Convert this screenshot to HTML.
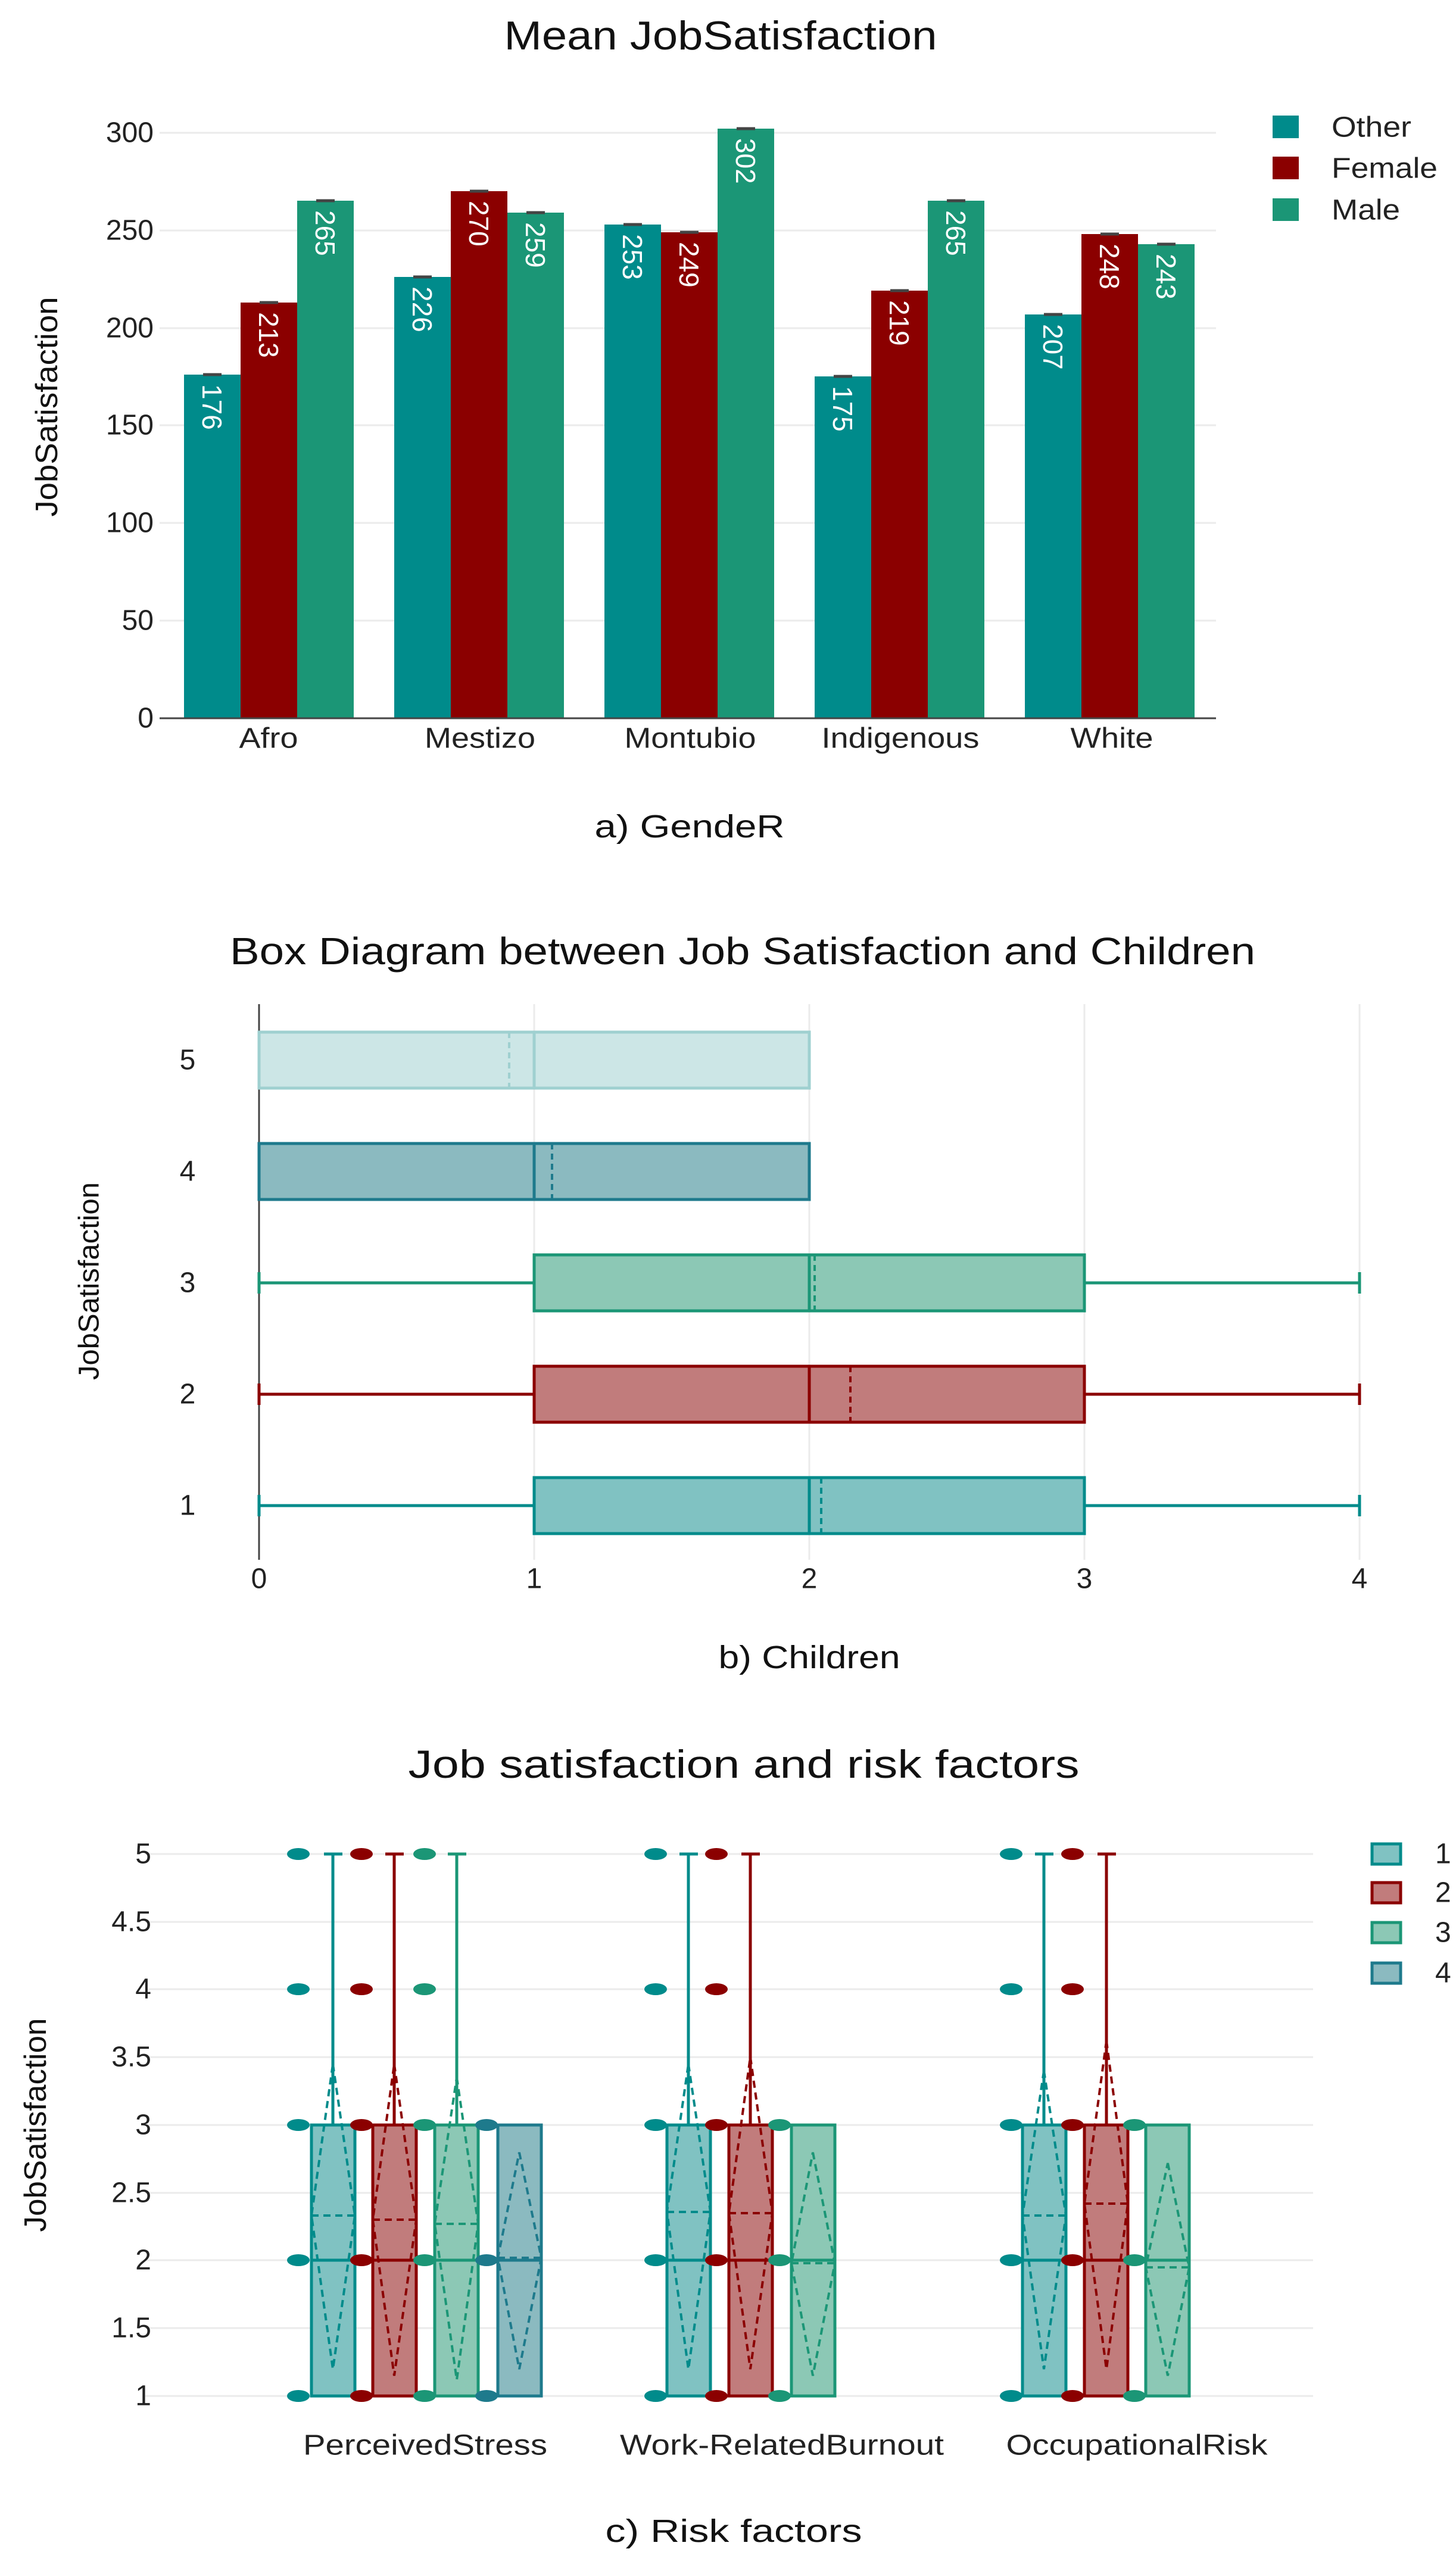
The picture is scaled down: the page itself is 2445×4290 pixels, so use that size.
<!DOCTYPE html>
<html><head><meta charset="utf-8"><style>
html,body{margin:0;padding:0;background:#fff;}
svg{display:block;font-family:"Liberation Sans",Arial,sans-serif;}
</style></head><body>
<svg width="2445" height="4290" viewBox="0 0 2445 4290" xmlns="http://www.w3.org/2000/svg">
<rect width="2445" height="4290" fill="#fff"/>

<!-- ===== Chart a ===== -->
<text x="1210" y="60" font-size="68" text-anchor="middle" dominant-baseline="central" fill="#111" textLength="727" lengthAdjust="spacingAndGlyphs">Mean JobSatisfaction</text>
<g stroke="#ebebeb" stroke-width="3">
<line x1="268" x2="2042" y1="1042" y2="1042"/><line x1="268" x2="2042" y1="878" y2="878"/>
<line x1="268" x2="2042" y1="714" y2="714"/><line x1="268" x2="2042" y1="551" y2="551"/>
<line x1="268" x2="2042" y1="387" y2="387"/><line x1="268" x2="2042" y1="223" y2="223"/>
</g>
<g font-size="48" text-anchor="end" dominant-baseline="central" fill="#222">
<text x="258" y="1206">0</text><text x="258" y="1042">50</text><text x="258" y="878">100</text>
<text x="258" y="714">150</text><text x="258" y="551">200</text><text x="258" y="387">250</text><text x="258" y="223">300</text>
</g>
<text transform="translate(79,683) rotate(-90)" font-size="52" text-anchor="middle" dominant-baseline="central" fill="#111" textLength="369" lengthAdjust="spacingAndGlyphs">JobSatisfaction</text>
<!-- bars -->
<g>
<rect x="309" y="629" width="95" height="577" fill="#008B8B"/><rect x="404" y="508" width="95" height="698" fill="#8B0000"/><rect x="499" y="337" width="95" height="869" fill="#1B9676"/>
<rect x="662" y="465" width="95" height="741" fill="#008B8B"/><rect x="757" y="321" width="95" height="885" fill="#8B0000"/><rect x="852" y="357" width="95" height="849" fill="#1B9676"/>
<rect x="1015" y="377" width="95" height="829" fill="#008B8B"/><rect x="1110" y="390" width="95" height="816" fill="#8B0000"/><rect x="1205" y="216" width="95" height="990" fill="#1B9676"/>
<rect x="1368" y="632" width="95" height="574" fill="#008B8B"/><rect x="1463" y="488" width="95" height="718" fill="#8B0000"/><rect x="1558" y="337" width="95" height="869" fill="#1B9676"/>
<rect x="1721" y="528" width="95" height="678" fill="#008B8B"/><rect x="1816" y="393" width="95" height="813" fill="#8B0000"/><rect x="1911" y="410" width="95" height="796" fill="#1B9676"/>
</g>
<g stroke="#444" stroke-width="5">
<line x1="341" x2="372" y1="629" y2="629"/><line x1="436" x2="467" y1="508" y2="508"/><line x1="531" x2="562" y1="337" y2="337"/>
<line x1="694" x2="725" y1="465" y2="465"/><line x1="789" x2="820" y1="321" y2="321"/><line x1="884" x2="915" y1="357" y2="357"/>
<line x1="1047" x2="1078" y1="377" y2="377"/><line x1="1142" x2="1173" y1="390" y2="390"/><line x1="1237" x2="1268" y1="216" y2="216"/>
<line x1="1400" x2="1431" y1="632" y2="632"/><line x1="1495" x2="1526" y1="488" y2="488"/><line x1="1590" x2="1621" y1="337" y2="337"/>
<line x1="1753" x2="1784" y1="528" y2="528"/><line x1="1848" x2="1879" y1="393" y2="393"/><line x1="1943" x2="1974" y1="410" y2="410"/>
</g>
<g font-size="46" fill="#fff" dominant-baseline="central">
<text transform="translate(356,645) rotate(90)">176</text><text transform="translate(451,524) rotate(90)">213</text><text transform="translate(546,353) rotate(90)">265</text>
<text transform="translate(709,481) rotate(90)">226</text><text transform="translate(804,337) rotate(90)">270</text><text transform="translate(899,373) rotate(90)">259</text>
<text transform="translate(1062,393) rotate(90)">253</text><text transform="translate(1157,406) rotate(90)">249</text><text transform="translate(1252,232) rotate(90)">302</text>
<text transform="translate(1415,648) rotate(90)">175</text><text transform="translate(1510,504) rotate(90)">219</text><text transform="translate(1605,353) rotate(90)">265</text>
<text transform="translate(1768,544) rotate(90)">207</text><text transform="translate(1863,409) rotate(90)">248</text><text transform="translate(1958,426) rotate(90)">243</text>
</g>
<line x1="268" x2="2042" y1="1206" y2="1206" stroke="#444" stroke-width="3"/>
<g font-size="48" text-anchor="middle" dominant-baseline="central" fill="#222">
<text x="451" y="1240" textLength="99" lengthAdjust="spacingAndGlyphs">Afro</text><text x="806" y="1240" textLength="186" lengthAdjust="spacingAndGlyphs">Mestizo</text><text x="1159" y="1240" textLength="221" lengthAdjust="spacingAndGlyphs">Montubio</text><text x="1512" y="1240" textLength="265" lengthAdjust="spacingAndGlyphs">Indigenous</text><text x="1867" y="1240" textLength="139" lengthAdjust="spacingAndGlyphs">White</text>
</g>
<text x="1158" y="1388" font-size="54" text-anchor="middle" dominant-baseline="central" fill="#111" textLength="319" lengthAdjust="spacingAndGlyphs">a) GendeR</text>
<rect x="2137" y="194" width="44" height="38" fill="#008B8B"/><rect x="2137" y="263" width="44" height="38" fill="#8B0000"/><rect x="2137" y="333" width="44" height="38" fill="#1B9676"/>
<g font-size="48" dominant-baseline="central" fill="#222">
<text x="2236" y="214" textLength="134" lengthAdjust="spacingAndGlyphs">Other</text><text x="2236" y="283" textLength="178" lengthAdjust="spacingAndGlyphs">Female</text><text x="2236" y="353" textLength="115" lengthAdjust="spacingAndGlyphs">Male</text>
</g>

<!-- ===== Chart b ===== -->
<text x="1247" y="1597" font-size="64" text-anchor="middle" dominant-baseline="central" fill="#111" textLength="1722" lengthAdjust="spacingAndGlyphs">Box Diagram between Job Satisfaction and Children</text>
<g stroke="#ebebeb" stroke-width="3">
<line x1="897" x2="897" y1="1686" y2="2619"/><line x1="1359" x2="1359" y1="1686" y2="2619"/>
<line x1="1821" x2="1821" y1="1686" y2="2619"/><line x1="2283" x2="2283" y1="1686" y2="2619"/>
</g>
<line x1="435" x2="435" y1="1686" y2="2619" stroke="#444" stroke-width="3"/>
<g font-size="48" text-anchor="middle" dominant-baseline="central" fill="#222">
<text x="315" y="1780">5</text><text x="315" y="1967">4</text><text x="315" y="2154">3</text><text x="315" y="2341">2</text><text x="315" y="2528">1</text>
<text x="435" y="2651">0</text><text x="897" y="2651">1</text><text x="1359" y="2651">2</text><text x="1821" y="2651">3</text><text x="2283" y="2651">4</text>
</g>
<text transform="translate(150,2151) rotate(-90)" font-size="48" text-anchor="middle" dominant-baseline="central" fill="#111" textLength="332" lengthAdjust="spacingAndGlyphs">JobSatisfaction</text>
<text x="1359" y="2783" font-size="54" text-anchor="middle" dominant-baseline="central" fill="#111" textLength="305" lengthAdjust="spacingAndGlyphs">b) Children</text>
<!-- 5 -->
<rect x="435" y="1733" width="924" height="94" fill="#CCE6E6" stroke="#9FD0D0" stroke-width="5"/>
<line x1="897" x2="897" y1="1733" y2="1827" stroke="#9FD0D0" stroke-width="5"/>
<line x1="855" x2="855" y1="1733" y2="1827" stroke="#9FD0D0" stroke-width="4" stroke-dasharray="10 7"/>
<!-- 4 -->
<rect x="435" y="1920" width="924" height="94" fill="#8BBAC0" stroke="#1E7A8C" stroke-width="5"/>
<line x1="897" x2="897" y1="1920" y2="2014" stroke="#1E7A8C" stroke-width="5"/>
<line x1="927" x2="927" y1="1920" y2="2014" stroke="#1E7A8C" stroke-width="4" stroke-dasharray="10 7"/>
<!-- 3 -->
<g stroke="#1B9676" stroke-width="5">
<line x1="435" x2="897" y1="2154" y2="2154"/><line x1="1821" x2="2283" y1="2154" y2="2154"/>
<line x1="435" x2="435" y1="2136" y2="2172"/><line x1="2283" x2="2283" y1="2136" y2="2172"/>
<rect x="897" y="2107" width="924" height="94" fill="#8CC8B5"/>
<line x1="1359" x2="1359" y1="2107" y2="2201"/>
<line x1="1368" x2="1368" y1="2107" y2="2201" stroke-width="4" stroke-dasharray="10 7"/>
</g>
<!-- 2 -->
<g stroke="#8B0000" stroke-width="5">
<line x1="435" x2="897" y1="2341" y2="2341"/><line x1="1821" x2="2283" y1="2341" y2="2341"/>
<line x1="435" x2="435" y1="2323" y2="2359"/><line x1="2283" x2="2283" y1="2323" y2="2359"/>
<rect x="897" y="2294" width="924" height="94" fill="#C17C7C"/>
<line x1="1359" x2="1359" y1="2294" y2="2388"/>
<line x1="1428" x2="1428" y1="2294" y2="2388" stroke-width="4" stroke-dasharray="10 7"/>
</g>
<!-- 1 -->
<g stroke="#008B8B" stroke-width="5">
<line x1="435" x2="897" y1="2528" y2="2528"/><line x1="1821" x2="2283" y1="2528" y2="2528"/>
<line x1="435" x2="435" y1="2510" y2="2546"/><line x1="2283" x2="2283" y1="2510" y2="2546"/>
<rect x="897" y="2481" width="924" height="94" fill="#80C2C2"/>
<line x1="1359" x2="1359" y1="2481" y2="2575"/>
<line x1="1379" x2="1379" y1="2481" y2="2575" stroke-width="4" stroke-dasharray="10 7"/>
</g>

<!-- ===== Chart c ===== -->
<text x="1249" y="2962" font-size="66" text-anchor="middle" dominant-baseline="central" fill="#111" textLength="1127" lengthAdjust="spacingAndGlyphs">Job satisfaction and risk factors</text>
<g stroke="#ebebeb" stroke-width="3">
<line x1="244" x2="2205" y1="3113" y2="3113"/><line x1="244" x2="2205" y1="3227" y2="3227"/>
<line x1="244" x2="2205" y1="3340" y2="3340"/><line x1="244" x2="2205" y1="3454" y2="3454"/>
<line x1="244" x2="2205" y1="3568" y2="3568"/><line x1="244" x2="2205" y1="3682" y2="3682"/>
<line x1="244" x2="2205" y1="3795" y2="3795"/><line x1="244" x2="2205" y1="3909" y2="3909"/>
<line x1="244" x2="2205" y1="4023" y2="4023"/>
</g>
<g font-size="48" text-anchor="end" dominant-baseline="central" fill="#222">
<text x="254" y="3113">5</text><text x="254" y="3227">4.5</text><text x="254" y="3340">4</text><text x="254" y="3454">3.5</text>
<text x="254" y="3568">3</text><text x="254" y="3682">2.5</text><text x="254" y="3795">2</text><text x="254" y="3909">1.5</text><text x="254" y="4023">1</text>
</g>
<text transform="translate(60,3568) rotate(-90)" font-size="52" text-anchor="middle" dominant-baseline="central" fill="#111" textLength="359" lengthAdjust="spacingAndGlyphs">JobSatisfaction</text>
<g font-size="48" text-anchor="middle" dominant-baseline="central" fill="#222">
<text x="714" y="4106" textLength="410" lengthAdjust="spacingAndGlyphs">PerceivedStress</text><text x="1313" y="4106" textLength="544" lengthAdjust="spacingAndGlyphs">Work-RelatedBurnout</text><text x="1909" y="4106" textLength="439" lengthAdjust="spacingAndGlyphs">OccupationalRisk</text>
</g>
<text x="1232" y="4250" font-size="54" text-anchor="middle" dominant-baseline="central" fill="#111" textLength="431" lengthAdjust="spacingAndGlyphs">c) Risk factors</text>
<!-- legend -->
<rect x="2304" y="3096" width="48" height="34" fill="#80C2C2" stroke="#008B8B" stroke-width="5"/>
<rect x="2304" y="3161" width="48" height="34" fill="#C17C7C" stroke="#8B0000" stroke-width="5"/>
<rect x="2304" y="3228" width="48" height="34" fill="#8CC8B5" stroke="#1B9676" stroke-width="5"/>
<rect x="2304" y="3296" width="48" height="34" fill="#8BBAC0" stroke="#1E7A8C" stroke-width="5"/>
<g font-size="48" dominant-baseline="central" fill="#222">
<text x="2410" y="3113">1</text><text x="2410" y="3178">2</text><text x="2410" y="3245">3</text><text x="2410" y="3313">4</text>
</g>

<!-- PS box1 -->
<g stroke="#008B8B" stroke-width="5" fill="#008B8B">
<line x1="559" x2="559" y1="3568" y2="3113"/><line x1="544" x2="575" y1="3113" y2="3113"/>
<rect x="523" y="3568" width="73" height="455" fill="#80C2C2"/>
<line x1="523" x2="596" y1="3795" y2="3795"/>
<g stroke-width="4" stroke-dasharray="12 8" fill="none"><polygon points="559,3466 596,3720 559,3978 523,3720"/><line x1="523" x2="596" y1="3720" y2="3720"/></g>
<g stroke="none"><ellipse cx="501" cy="3113" rx="19" ry="10"/><ellipse cx="501" cy="3340" rx="19" ry="10"/><ellipse cx="501" cy="3568" rx="19" ry="10"/><ellipse cx="501" cy="3795" rx="19" ry="10"/><ellipse cx="501" cy="4023" rx="19" ry="10"/></g>
</g>
<!-- PS box2 -->
<g stroke="#8B0000" stroke-width="5" fill="#8B0000">
<line x1="662" x2="662" y1="3568" y2="3113"/><line x1="647" x2="678" y1="3113" y2="3113"/>
<rect x="626" y="3568" width="73" height="455" fill="#C17C7C"/>
<line x1="626" x2="699" y1="3795" y2="3795"/>
<g stroke-width="4" stroke-dasharray="12 8" fill="none"><polygon points="662,3466 699,3727 662,3989 626,3727"/><line x1="626" x2="699" y1="3727" y2="3727"/></g>
<g stroke="none"><ellipse cx="607" cy="3113" rx="19" ry="10"/><ellipse cx="607" cy="3340" rx="19" ry="10"/><ellipse cx="607" cy="3568" rx="19" ry="10"/><ellipse cx="607" cy="3795" rx="19" ry="10"/><ellipse cx="607" cy="4023" rx="19" ry="10"/></g>
</g>
<!-- PS box3 -->
<g stroke="#1B9676" stroke-width="5" fill="#1B9676">
<line x1="767" x2="767" y1="3568" y2="3113"/><line x1="752" x2="783" y1="3113" y2="3113"/>
<rect x="730" y="3568" width="73" height="455" fill="#8CC8B5"/>
<line x1="730" x2="803" y1="3795" y2="3795"/>
<g stroke-width="4" stroke-dasharray="12 8" fill="none"><polygon points="767,3488 803,3734 767,3996 730,3734"/><line x1="730" x2="803" y1="3734" y2="3734"/></g>
<g stroke="none"><ellipse cx="713" cy="3113" rx="19" ry="10"/><ellipse cx="713" cy="3340" rx="19" ry="10"/><ellipse cx="713" cy="3568" rx="19" ry="10"/><ellipse cx="713" cy="3795" rx="19" ry="10"/><ellipse cx="713" cy="4023" rx="19" ry="10"/></g>
</g>
<!-- PS box4 -->
<g stroke="#1E7A8C" stroke-width="5" fill="#1E7A8C">
<rect x="836" y="3568" width="73" height="455" fill="#8BBAC0"/>
<line x1="836" x2="909" y1="3795" y2="3795"/>
<g stroke-width="4" stroke-dasharray="12 8" fill="none"><polygon points="872,3614 909,3791 872,3978 836,3791"/><line x1="836" x2="909" y1="3791" y2="3791"/></g>
<g stroke="none"><ellipse cx="817" cy="3568" rx="19" ry="10"/><ellipse cx="817" cy="3795" rx="19" ry="10"/><ellipse cx="817" cy="4023" rx="19" ry="10"/></g>
</g>

<!-- WRB box1 -->
<g stroke="#008B8B" stroke-width="5" fill="#008B8B">
<line x1="1156" x2="1156" y1="3568" y2="3113"/><line x1="1141" x2="1172" y1="3113" y2="3113"/>
<rect x="1120" y="3568" width="73" height="455" fill="#80C2C2"/>
<line x1="1120" x2="1193" y1="3795" y2="3795"/>
<g stroke-width="4" stroke-dasharray="12 8" fill="none"><polygon points="1156,3466 1193,3714 1156,3978 1120,3714"/><line x1="1120" x2="1193" y1="3714" y2="3714"/></g>
<g stroke="none"><ellipse cx="1101" cy="3113" rx="19" ry="10"/><ellipse cx="1101" cy="3340" rx="19" ry="10"/><ellipse cx="1101" cy="3568" rx="19" ry="10"/><ellipse cx="1101" cy="3795" rx="19" ry="10"/><ellipse cx="1101" cy="4023" rx="19" ry="10"/></g>
</g>
<!-- WRB box2 -->
<g stroke="#8B0000" stroke-width="5" fill="#8B0000">
<line x1="1260" x2="1260" y1="3568" y2="3113"/><line x1="1245" x2="1276" y1="3113" y2="3113"/>
<rect x="1224" y="3568" width="73" height="455" fill="#C17C7C"/>
<line x1="1224" x2="1297" y1="3795" y2="3795"/>
<g stroke-width="4" stroke-dasharray="12 8" fill="none"><polygon points="1260,3454 1297,3716 1260,3978 1224,3716"/><line x1="1224" x2="1297" y1="3716" y2="3716"/></g>
<g stroke="none"><ellipse cx="1203" cy="3113" rx="19" ry="10"/><ellipse cx="1203" cy="3340" rx="19" ry="10"/><ellipse cx="1203" cy="3568" rx="19" ry="10"/><ellipse cx="1203" cy="3795" rx="19" ry="10"/><ellipse cx="1203" cy="4023" rx="19" ry="10"/></g>
</g>
<!-- WRB box3 -->
<g stroke="#1B9676" stroke-width="5" fill="#1B9676">
<rect x="1329" y="3568" width="73" height="455" fill="#8CC8B5"/>
<line x1="1329" x2="1402" y1="3795" y2="3795"/>
<g stroke-width="4" stroke-dasharray="12 8" fill="none"><polygon points="1365,3614 1402,3800 1365,3989 1329,3800"/><line x1="1329" x2="1402" y1="3800" y2="3800"/></g>
<g stroke="none"><ellipse cx="1309" cy="3568" rx="19" ry="10"/><ellipse cx="1309" cy="3795" rx="19" ry="10"/><ellipse cx="1309" cy="4023" rx="19" ry="10"/></g>
</g>

<!-- OR box1 -->
<g stroke="#008B8B" stroke-width="5" fill="#008B8B">
<line x1="1753" x2="1753" y1="3568" y2="3113"/><line x1="1738" x2="1769" y1="3113" y2="3113"/>
<rect x="1717" y="3568" width="73" height="455" fill="#80C2C2"/>
<line x1="1717" x2="1790" y1="3795" y2="3795"/>
<g stroke-width="4" stroke-dasharray="12 8" fill="none"><polygon points="1753,3477 1790,3720 1753,3978 1717,3720"/><line x1="1717" x2="1790" y1="3720" y2="3720"/></g>
<g stroke="none"><ellipse cx="1698" cy="3113" rx="19" ry="10"/><ellipse cx="1698" cy="3340" rx="19" ry="10"/><ellipse cx="1698" cy="3568" rx="19" ry="10"/><ellipse cx="1698" cy="3795" rx="19" ry="10"/><ellipse cx="1698" cy="4023" rx="19" ry="10"/></g>
</g>
<!-- OR box2 -->
<g stroke="#8B0000" stroke-width="5" fill="#8B0000">
<line x1="1858" x2="1858" y1="3568" y2="3113"/><line x1="1843" x2="1874" y1="3113" y2="3113"/>
<rect x="1821" y="3568" width="73" height="455" fill="#C17C7C"/>
<line x1="1821" x2="1894" y1="3795" y2="3795"/>
<g stroke-width="4" stroke-dasharray="12 8" fill="none"><polygon points="1858,3427 1894,3700 1858,3978 1821,3700"/><line x1="1821" x2="1894" y1="3700" y2="3700"/></g>
<g stroke="none"><ellipse cx="1801" cy="3113" rx="19" ry="10"/><ellipse cx="1801" cy="3340" rx="19" ry="10"/><ellipse cx="1801" cy="3568" rx="19" ry="10"/><ellipse cx="1801" cy="3795" rx="19" ry="10"/><ellipse cx="1801" cy="4023" rx="19" ry="10"/></g>
</g>
<!-- OR box3 -->
<g stroke="#1B9676" stroke-width="5" fill="#1B9676">
<rect x="1924" y="3568" width="73" height="455" fill="#8CC8B5"/>
<line x1="1924" x2="1997" y1="3795" y2="3795"/>
<g stroke-width="4" stroke-dasharray="12 8" fill="none"><polygon points="1961,3632 1997,3807 1961,3989 1924,3807"/><line x1="1924" x2="1997" y1="3807" y2="3807"/></g>
<g stroke="none"><ellipse cx="1905" cy="3568" rx="19" ry="10"/><ellipse cx="1905" cy="3795" rx="19" ry="10"/><ellipse cx="1905" cy="4023" rx="19" ry="10"/></g>
</g>
</svg>
</body></html>
